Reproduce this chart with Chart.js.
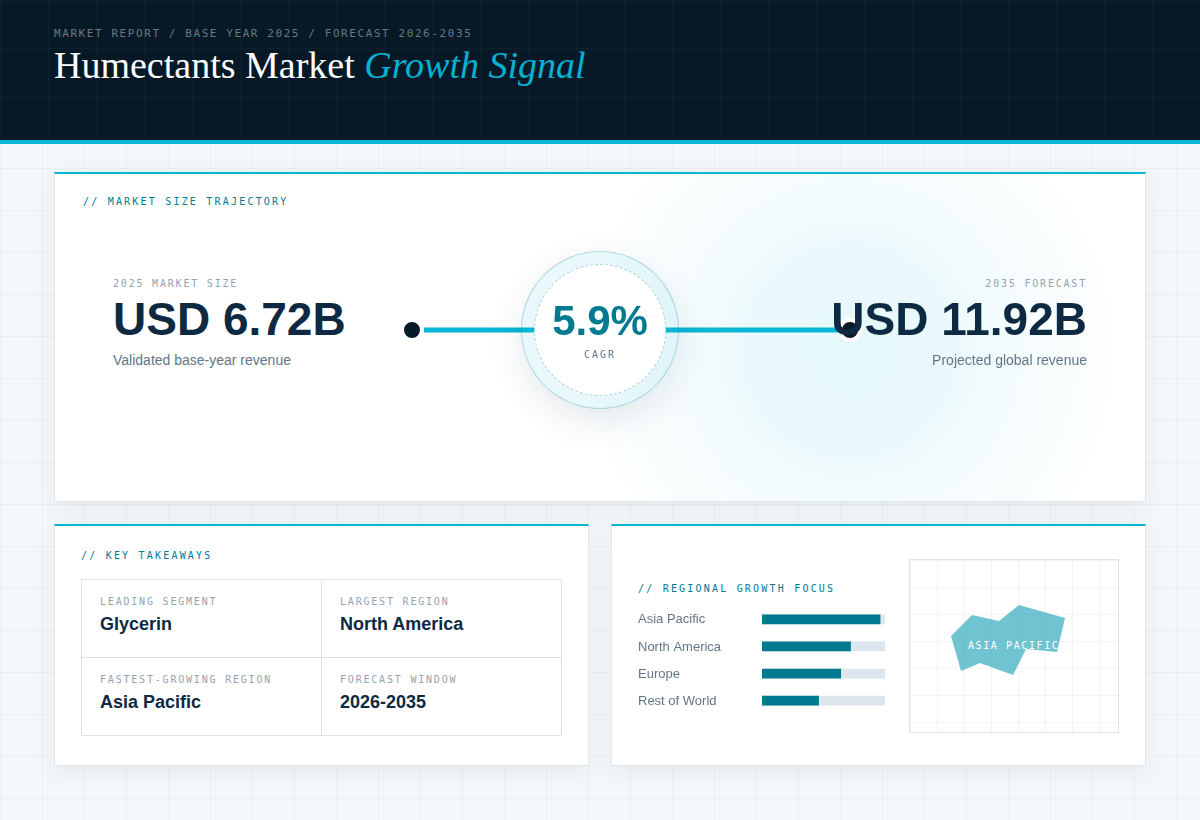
<!DOCTYPE html>
<html lang="en">
<head>
<meta charset="utf-8">
<title>Humectants Market Growth Signal</title>
<script src="https://cdn.jsdelivr.net/npm/chart.js@4"></script>
<style>
*{box-sizing:border-box;margin:0;padding:0}
html,body{width:1200px;height:820px;overflow:hidden}
body{position:relative;font-family:"Liberation Sans",Arial,sans-serif;background-color:#f5f8fa;
background-image:linear-gradient(rgba(13,42,66,.04) 1px,transparent 1px),linear-gradient(90deg,rgba(13,42,66,.04) 1px,transparent 1px);background-size:42px 42px}
.t{position:absolute;white-space:nowrap}
.mono{font-family:"DejaVu Sans Mono",monospace}
header{position:absolute;left:0;top:0;width:1200px;height:144px;background-color:#071926;border-bottom:4px solid #06b6d4;
background-image:linear-gradient(rgba(130,190,210,.04) 1px,transparent 1px),linear-gradient(90deg,rgba(130,190,210,.04) 1px,transparent 1px);background-size:48px 48px}
.eyebrow{left:54px;top:26px;line-height:16px;font-size:11px;letter-spacing:1.58px;color:#6a7881}
h1{left:54px;top:42px;line-height:46px;font:400 38px/46px "Liberation Serif",serif;color:#fff}
h1 em{color:#06b0d2;font-style:italic}
.card{position:absolute;background:#fff;border:1px solid #dfe5e9;border-top:2px solid #06b6d4;box-shadow:0 6px 22px rgba(13,42,66,.07)}
#hero{left:54px;top:172px;width:1092px;height:330px;overflow:hidden;background:radial-gradient(circle 280px at 795px 176px,rgba(6,182,212,.105),rgba(6,182,212,.078) 35%,rgba(6,182,212,.035) 65%,rgba(6,182,212,0) 100%),#fff}
#left{left:54px;top:524px;width:535px;height:242px}
#right{left:611px;top:524px;width:535px;height:242px}
.sec{font-size:10px;line-height:14px;letter-spacing:.22em;color:#007a90}
.lab{font-size:10px;line-height:14px;letter-spacing:.18em;color:#93a3b0}
.big{font-weight:700;font-size:46px;line-height:54px;color:#0d2a42}
.sub{font-size:14px;line-height:18px;color:#627687}
canvas{position:absolute;display:block}
#ring{position:absolute;left:521px;top:251px;width:158px;height:158px;border-radius:50%;background:rgba(6,182,212,.09);border:1px solid rgba(0,122,144,.26);box-shadow:0 12px 34px rgba(13,42,66,.10)}
#core{position:absolute;left:534px;top:264px;width:132px;height:132px;border-radius:50%;background:#fff;border:1px dashed rgba(0,122,144,.32)}
.cagr{left:534px;width:132px;text-align:center;top:296px;font-weight:700;font-size:42px;line-height:50px;color:#007a90}
.cagrl{left:534px;width:132px;text-align:center;top:348px;font-size:10px;line-height:14px;letter-spacing:.2em;color:#627687}
#table{position:absolute;left:81px;top:579px;width:481px;height:157px;border:1px solid #dfe3e6}
#table i{position:absolute;background:#dfe3e6}
.val{font-weight:700;font-size:18px;line-height:22px;color:#0d2a42}
#map{position:absolute;left:909px;top:559px;width:210px;height:174px;border:1px solid #dde3e7;background-color:#fff;
background-image:linear-gradient(rgba(13,42,66,.05) 1px,transparent 1px),linear-gradient(90deg,rgba(13,42,66,.05) 1px,transparent 1px);background-size:27px 27px;background-position:0 0}
#map svg{position:absolute;left:-1px;top:-1px}
.maplab{left:968px;top:639px;font-size:10px;line-height:14px;letter-spacing:.16em;color:#fff}
</style>
</head>
<body>
<header></header>
<div class="t mono eyebrow">MARKET REPORT / BASE YEAR 2025 / FORECAST 2026-2035</div>
<h1 class="t">Humectants Market <em>Growth Signal</em></h1>

<div class="card" id="hero"></div>
<div class="t mono sec" style="left:83px;top:195px">// MARKET SIZE TRAJECTORY</div>
<canvas id="trajectory" width="466" height="40" style="left:398px;top:310px;width:466px;height:40px"></canvas>
<div class="t mono lab" style="left:113px;top:277px">2025 MARKET SIZE</div>
<div class="t big" style="left:113px;top:292px">USD 6.72B</div>
<div class="t sub" style="left:113px;top:351px">Validated base-year revenue</div>
<div class="t mono lab" style="right:113px;top:277px">2035 FORECAST</div>
<div class="t big" style="right:113px;top:292px">USD 11.92B</div>
<div class="t sub" style="right:113px;top:351px">Projected global revenue</div>
<div id="ring"></div><div id="core"></div>
<div class="t cagr">5.9%</div>
<div class="t mono cagrl">CAGR</div>

<div class="card" id="left"></div>
<div class="t mono sec" style="left:81px;top:549px">// KEY TAKEAWAYS</div>
<div id="table"><i style="left:239px;top:0;width:1px;height:155px"></i><i style="left:0;top:77px;width:479px;height:1px"></i></div>
<div class="t mono lab" style="left:100px;top:595px">LEADING SEGMENT</div>
<div class="t val" style="left:100px;top:613px">Glycerin</div>
<div class="t mono lab" style="left:340px;top:595px">LARGEST REGION</div>
<div class="t val" style="left:340px;top:613px">North America</div>
<div class="t mono lab" style="left:100px;top:673px">FASTEST-GROWING REGION</div>
<div class="t val" style="left:100px;top:691px">Asia Pacific</div>
<div class="t mono lab" style="left:340px;top:673px">FORECAST WINDOW</div>
<div class="t val" style="left:340px;top:691px">2026-2035</div>

<div class="card" id="right"></div>
<div class="t mono sec" style="left:638px;top:582px">// REGIONAL GROWTH FOCUS</div>
<canvas id="regions" width="247" height="124" style="left:638px;top:598px;width:247px;height:124px"></canvas>
<div id="map"><svg width="210" height="174" viewBox="909 559 210 174"><polygon points="951,636 972,615 999,621 1019,605 1065,618 1057,652 1026,649 1013,675 980,663 961,671" fill="rgba(0,150,175,.56)"/></svg></div>
<div class="t mono maplab">ASIA PACIFIC</div>

<script>
const trajectoryYears = [2025, 2035];
const marketSizeUsdB = [6.72, 11.92];
const regionLabels = ['Asia Pacific', 'North America', 'Europe', 'Rest of World'];
const regionGrowthScore = [96, 72, 64, 46];
const regionTrack = [100, 100, 100, 100];

new Chart(document.getElementById('trajectory'), {
  type: 'scatter',
  data: { datasets: [{
    label: 'Market size (USD B)',
    data: marketSizeUsdB.map(v => ({ x: v, y: 0 })),
    showLine: true, borderColor: '#06b6d4', borderWidth: 5,
    pointBackgroundColor: '#071a28', pointBorderColor: '#ffffff', pointBorderWidth: 4, pointRadius: 10,
    clip: false
  }] },
  options: {
    responsive: false, animation: false, devicePixelRatio: 1,
    layout: { padding: { left: 14, right: 14, top: 0, bottom: 0 } },
    plugins: { legend: { display: false }, tooltip: { enabled: false } },
    scales: {
      x: { type: 'linear', min: marketSizeUsdB[0], max: marketSizeUsdB[1], display: false },
      y: { min: -1, max: 1, display: false }
    }
  }
});

new Chart(document.getElementById('regions'), {
  type: 'bar',
  data: { labels: regionLabels, datasets: [
    { label: 'Growth focus', data: regionGrowthScore, backgroundColor: '#007a90', barThickness: 9, order: 1 },
    { label: 'Track', data: regionTrack, backgroundColor: '#dde6ec', barThickness: 9, order: 2 }
  ] },
  options: {
    indexAxis: 'y', responsive: false, animation: false, devicePixelRatio: 1,
    layout: { padding: 0 },
    plugins: { legend: { display: false }, tooltip: { enabled: false } },
    datasets: { bar: { grouped: false } },
    scales: {
      x: { min: 0, max: 100, display: false },
      y: {
        grid: { display: false }, border: { display: false },
        afterFit: s => { s.width = 124; },
        ticks: { crossAlign: 'far', padding: 0, labelOffset: 0.5, color: '#627687', font: { family: '"Liberation Sans"', size: 13 } }
      }
    }
  }
});
</script>
</body>
</html>
